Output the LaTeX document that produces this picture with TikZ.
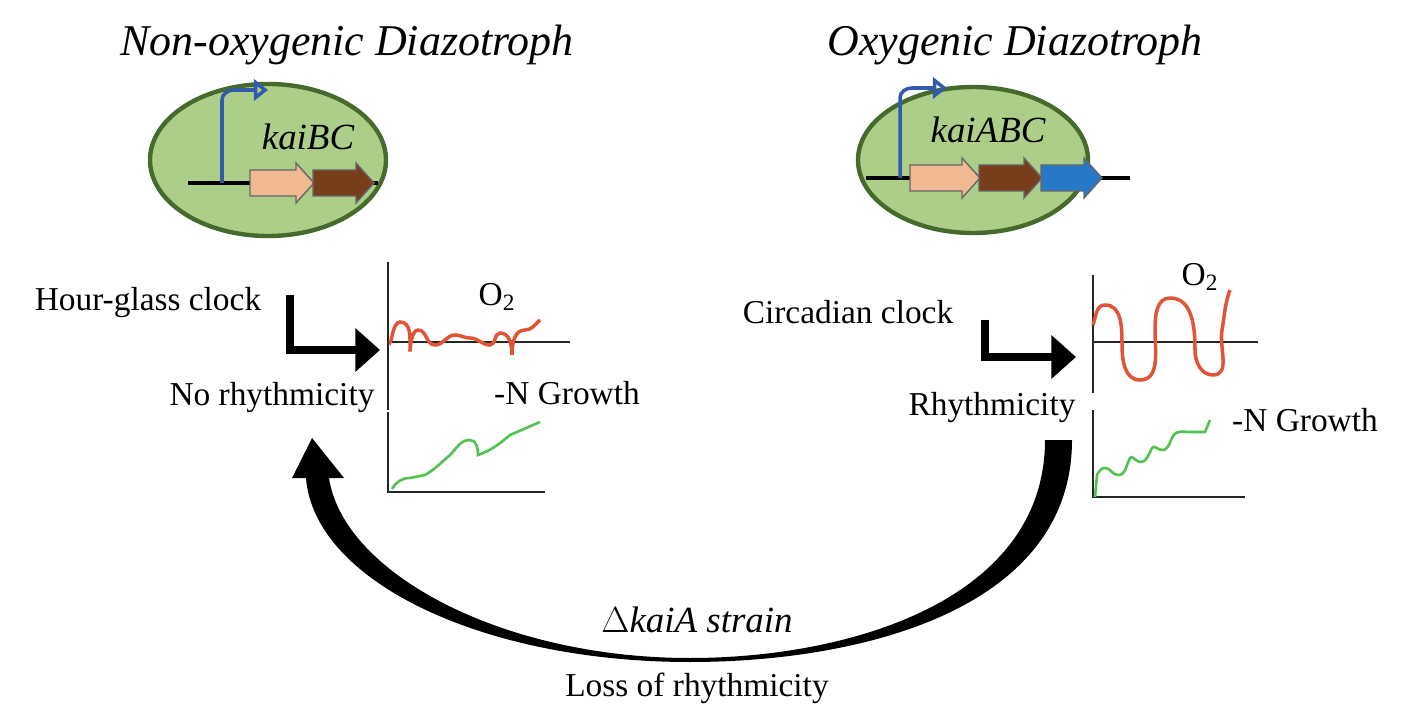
\documentclass[tikz,border=0pt]{standalone}
\usepackage{fontspec}
\setmainfont{Liberation Serif}
\usetikzlibrary{arrows.meta,shapes.geometric}
\definecolor{cellg}{RGB}{172,206,136}
\definecolor{celld}{RGB}{70,105,45}
\definecolor{gpeach}{RGB}{240,185,145}
\definecolor{gbrown}{RGB}{120,62,28}
\definecolor{gblue}{RGB}{40,120,200}
\definecolor{pblue}{RGB}{50,90,170}
\definecolor{o2red}{RGB}{225,85,55}
\definecolor{ngreen}{RGB}{80,195,80}
\tikzset{
 title/.style={font=\fontsize{25}{28}\selectfont\itshape},
 lbl/.style={font=\fontsize{19}{22}\selectfont},
 cell/.style={draw=celld,fill=cellg,line width=2.5pt},
 dna/.style={line width=2.5pt},
 prom/.style={draw=pblue,line width=2pt,-{Triangle[open,length=8pt,width=12pt]}},
 axis/.style={line width=1.6pt,draw=black!85},
 larr/.style={line width=4.5pt,-{Triangle[length=14pt,width=24pt]}},
}
\newcommand{\genearrow}[4]{% x1,x2,y,color
 \filldraw[draw=black!60,fill=#4,line width=0.8pt] (#1,#3-13)--(#2-18,#3-13)--(#2-18,#3-20)--(#2,#3)--(#2-18,#3+20)--(#2-18,#3+13)--(#1,#3+13)--cycle;}
\begin{document}
\begin{tikzpicture}[x=0.02cm,y=-0.02cm]
\useasboundingbox (0,0) rectangle (1414,726);
% titles
\node[title] (t1) at (347,45) {Non-oxygenic Diazotroph};
\node[title] (t2) at (1015,45) {Oxygenic Diazotroph};
% left cell
\node[cell,ellipse,minimum width=236*0.02cm,minimum height=152*0.02cm,inner sep=0] (c1) at (268,160) {};
\draw[dna] (188,183) -- (378,183);
\genearrow{250}{314}{183}{gpeach}
\genearrow{313}{374}{183}{gbrown}
\draw[prom] (222,183) -- (222,100) to[out=90,in=180] (234,90) -- (268,90);
\node[font=\fontsize{21}{24}\selectfont\itshape] (k1) at (308,137) {kaiBC};
% right cell
\node[cell,ellipse,minimum width=230*0.02cm,minimum height=146*0.02cm,inner sep=0] (c2) at (973,160) {};
\draw[dna] (866,178) -- (1130,178);
\genearrow{910}{980}{178}{gpeach}
\genearrow{979}{1042}{178}{gbrown}
\genearrow{1041}{1102}{178}{gblue}
\draw[prom] (900,178) -- (900,98) to[out=90,in=180] (912,88) -- (947,88);
\node[font=\fontsize{21}{24}\selectfont\itshape] (k2) at (988,130) {kaiABC};
% left labels
\node[lbl] (hg) at (148,303) {Hour-glass clock};
\node[lbl] (nr) at (272,398) {No rhythmicity};
\coordinate (l1) at (290,295);
\coordinate (l2) at (380,350);
\draw[larr] (l1) |- (l2);
% left charts
\draw[axis] (388,262) -- (388,410);
\draw[axis] (388,342) -- (570,342);
\node[lbl] (o1) at (497,297) {O\textsubscript{2}};
\draw[o2red,line width=2pt] (390,340) to[out=-80,in=180] (400,322) to[out=0,in=90] (410,350) to[out=-90,in=180] (418,330) to[out=0,in=180] (435,345) to[out=0,in=180] (455,335) to[out=0,in=180] (470,338) to[out=0,in=180] (490,345) to[out=0,in=180] (500,333) to[out=0,in=90] (512,355) to[out=90,in=180] (525,330) to[out=0,in=220] (540,320);
\draw[axis] (388,412) -- (388,492) -- (545,492);
\node[lbl] (n1) at (567,393) {-N Growth};
\draw[ngreen,line width=1.5pt] (392,489) to[out=60,in=180] (410,478) -- (425,475) to[out=30,in=220] (450,455) to[out=45,in=180] (470,440) to[out=0,in=90] (478,455) to[out=20,in=220] (510,435) -- (540,422);
% right labels
\node[lbl] (cc) at (848,312) {Circadian clock};
\node[lbl] (rh) at (992,408) {Rhythmicity};
\coordinate (r1) at (985,320);
\coordinate (r2) at (1076,357);
\draw[larr] (r1) |- (r2);
% right charts
\draw[axis] (1093,275) -- (1093,393);
\draw[axis] (1093,342) -- (1258,342);
\node[lbl] (o2) at (1200,277) {O\textsubscript{2}};
\draw[o2red,line width=2pt] (1093,325) to[out=70,in=180] (1105,305) to[out=0,in=90] (1122,345) to[out=-90,in=180] (1140,380) to[out=0,in=-90] (1155,330) to[out=90,in=180] (1170,298) to[out=0,in=90] (1195,350) to[out=-90,in=180] (1213,375) to[out=0,in=-100] (1222,330) to[out=80,in=250] (1230,290);
\draw[axis] (1093,410) -- (1093,497) -- (1245,497);
\node[lbl] (n2) at (1305,420) {-N Growth};
\draw[ngreen,line width=1.5pt] (1095,497) -- (1097,475) to[out=60,in=180] (1105,468) to[out=0,in=180] (1118,475) to[out=0,in=240] (1130,458) to[out=60,in=180] (1140,462) to[out=0,in=240] (1152,448) to[out=60,in=180] (1162,450) to[out=0,in=240] (1173,436) to[out=60,in=180] (1190,432) -- (1205,432) -- (1210,420);
% big curved arrow
\fill (1072,440) .. controls (1072,610) and (860,662) .. (690,662)
  .. controls (480,662) and (314,580) .. (306,478) -- (292,478) -- (312,438) -- (344,478) -- (329,478)
  .. controls (343,572) and (500,658) .. (690,658)
  .. controls (850,658) and (1045,600) .. (1045,440) -- cycle;
\node[font=\fontsize{21}{24}\selectfont\itshape] (ka) at (697,620) {$\Delta$kaiA strain};
\node[lbl] (lr) at (697,688) {Loss of rhythmicity};
\end{tikzpicture}
\end{document}
